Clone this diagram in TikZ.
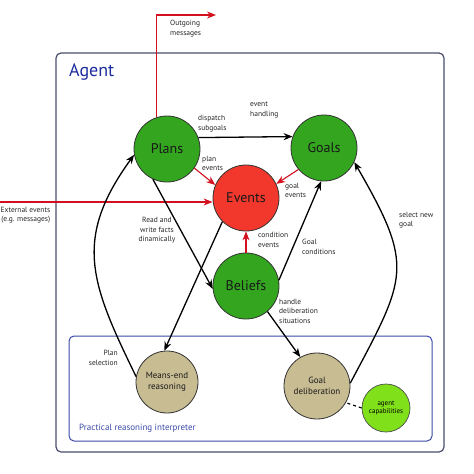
\documentclass[tikz,border=0pt]{standalone}
\usepackage{fontspec}
\setmainfont{PT Sans}
\usetikzlibrary{arrows.meta,calc}
\definecolor{mindgreen}{HTML}{33A51F}
\definecolor{evred}{HTML}{F2372C}
\definecolor{redline}{HTML}{D3101E}
\definecolor{reasontan}{HTML}{C8BC93}
\definecolor{capgreen}{HTML}{80E01A}
\definecolor{boxgrey}{HTML}{4A4E6C}
\definecolor{interpblue}{HTML}{3B4AA8}
\definecolor{agentblue}{HTML}{1C2C9E}

\begin{document}
\begin{tikzpicture}[x=1pt,y=1pt,
    bubble/.style={circle,draw=black!80,line width=0.8pt,minimum size=66pt,inner sep=0pt,
      fill=mindgreen,text=black!90,font=\fontsize{14}{16}\selectfont},
    reasoner/.style={bubble,fill=reasontan,align=center,font=\fontsize{9}{11}\selectfont},
    arr/.style={line width=1.3pt,-{Stealth[length=9pt,width=7pt]}},
    redarr/.style={arr,draw=redline,line width=1.1pt},
    lbl/.style={inner sep=0pt,anchor=north west,align=left,text=black!85,
      font=\fontsize{7.5}{9.5}\selectfont}]
  \useasboundingbox (0,0) rectangle (474,-474);

  % frames
  \draw[boxgrey,line width=1.2pt,rounded corners=5pt] (56,-53) rectangle (444,-452);
  \node[inner sep=0pt,anchor=west,text=agentblue,font=\fontsize{18}{20}\selectfont] (agenttitle) at (69,-72) {Agent};
  \draw[interpblue,line width=1pt,rounded corners=5pt] (69,-336) rectangle (432,-441);
  \node[inner sep=0pt,anchor=west,text=interpblue,font=\fontsize{9}{11}\selectfont] (interptitle) at (79,-428) {Practical reasoning interpreter};

  % mental states
  \node[bubble] (plans) at (167,-149) {Plans};
  \node[bubble] (goals) at (324,-148) {Goals};
  \node[bubble,fill=evred] (events) at (246,-198) {Events};
  \node[bubble] (beliefs) at (246,-286) {Beliefs};
  \node[reasoner,minimum size=62pt] (meansend) at (167,-382) {Means-end\\reasoning};
  \node[reasoner] (goaldelib) at (317,-386) {Goal\\deliberation};
  \node[circle,draw=black!70,line width=0.7pt,fill=capgreen,minimum size=48pt,inner sep=0pt,
    align=center,font=\fontsize{7}{8.5}\selectfont] (caps) at (386,-408) {agent\\capabilities};

  \coordinate (outmsg) at (216,-15);
  \coordinate (extsrc) at (-2,-202);

  % event flow
  \draw[redarr] (plans.109) |- (outmsg);
  \draw[redarr] (extsrc) -- (extsrc -| events.west);
  \draw[redarr] (plans.-35) -- (events.157);
  \draw[redarr] (goals.-140) -- (events.25);
  \draw[redarr] (beliefs.north) -- (events.south);

  % control flow
  \draw[arr] (plans.20) -- (goals.160);
  \draw[arr] (plans.-115) -- (beliefs.-175);
  \draw[arr] (events.-135) -- (meansend.95);
  \draw[arr] (meansend.170) to[out=116,in=234,looseness=1.2] (plans.-170);
  \draw[arr] (beliefs.10) -- (goals.-95);
  \draw[arr] (beliefs.-50) -- (goaldelib.120);
  \draw[arr] (goaldelib.5) to[out=62,in=300,looseness=1.4] (goals.-25);
  \draw[dashed,line width=1.2pt] (caps.west) -- (goaldelib.-30);

  % labels
  \node[lbl] at (170,-20) {Outgoing\\messages};
  \node[lbl,align=right] at (0.5,-207) {External events\\(e.g. messages)};
  \node[lbl] at (198,-115) {dispatch\\subgoals};
  \node[lbl] at (250,-102) {event\\handling};
  \node[lbl] at (202,-156) {plan\\events};
  \node[lbl] at (285,-183) {goal\\events};
  \node[lbl] at (258,-232) {condition\\events};
  \node[lbl,anchor=north,align=center] at (157,-217) {Read and\\write facts\\dinamically};
  \node[lbl] at (302,-239) {Goal\\conditions};
  \node[lbl] at (279,-299) {handle\\deliberation\\situations};
  \node[lbl] at (399,-212) {select new\\goal};
  \node[lbl,anchor=north east,align=right] at (118,-350) {Plan\\selection};
\end{tikzpicture}
\end{document}
